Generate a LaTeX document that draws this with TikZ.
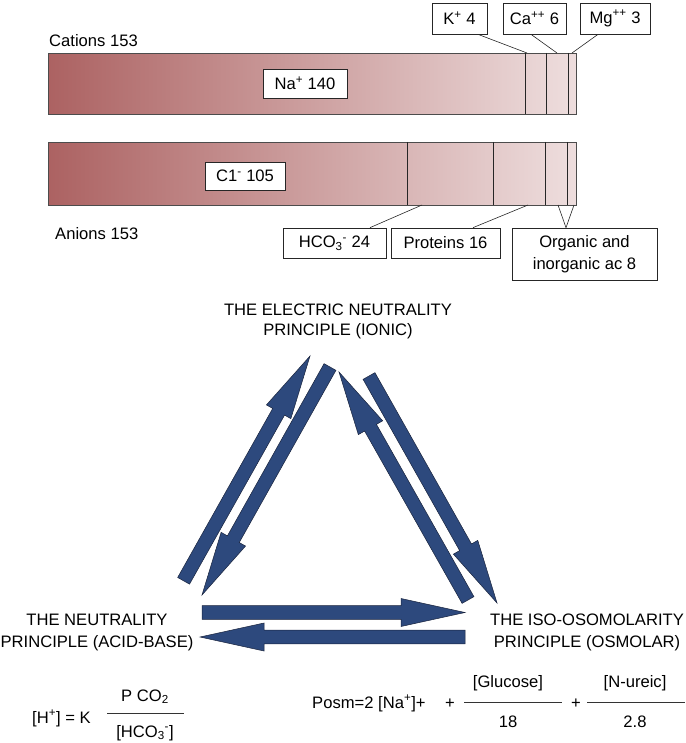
\documentclass[tikz,border=0pt]{standalone}
\usepackage{fontspec}
\setmainfont{Liberation Sans}
\usetikzlibrary{calc}
\definecolor{arrfill}{RGB}{45,73,125}
\definecolor{arrdraw}{RGB}{25,35,60}
\definecolor{barL}{RGB}{172,98,98}
\definecolor{barR}{RGB}{238,222,222}
\tikzset{
  lbl/.style={inner sep=0pt, text=black},
  valbox/.style={draw=black!85, line width=0.7pt, fill=white, inner sep=0pt, text=black},
  leader/.style={draw=black!85, line width=0.6pt},
  divider/.style={draw=black!85, line width=0.6pt},
  barnode/.style={draw=black!70, line width=0.7pt, left color=barL, right color=barR, inner sep=0pt, minimum width=528pt, anchor=north west},
  blockarrow/.style={fill=arrfill, draw=arrdraw, line width=0.5pt, line join=miter},
  fracline/.style={draw=black!80, line width=0.8pt},
}
\newcommand\blockarr[2]{%
  \path ($(#2)!64pt!(#1)$) coordinate (HB);
  \filldraw[blockarrow] ($(#1)!6.8pt!90:(#2)$) -- ($(HB)!6.8pt!90:(#2)$) -- ($(HB)!14pt!90:(#2)$) -- (#2) -- ($(HB)!14pt!-90:(#2)$) -- ($(HB)!6.8pt!-90:(#2)$) -- ($(#1)!6.8pt!-90:(#2)$) -- cycle;}
\begin{document}
\begin{tikzpicture}[x=1pt,y=-1pt,font=\fontsize{16.6}{20}\selectfont]
\useasboundingbox (0,0) rectangle (685,743);

% ---------- cation bar ----------
\node[lbl, anchor=base west] (cations) at (49,47) {Cations 153};
\node[barnode, minimum height=61pt] (catbar) at (48,53) {};
\draw[divider] (525,53) -- (525,114);
\draw[divider] (546,53) -- (546,114);
\draw[divider] (568,53) -- (568,114);
\node[valbox, minimum width=84pt, minimum height=29pt] (na) at (305,83.5) {Na\textsuperscript{+} 140};

\node[valbox, minimum width=55pt, minimum height=31pt] (kbox) at (459.5,18.5) {K\textsuperscript{+} 4};
\node[valbox, minimum width=63pt, minimum height=31pt] (cabox) at (534.5,18.5) {Ca\textsuperscript{++} 6};
\node[valbox, minimum width=70pt, minimum height=31pt] (mgbox) at (615,18.5) {Mg\textsuperscript{++} 3};
\coordinate (kpt) at (527,53);
\coordinate (capt) at (557,53);
\coordinate (mgpt) at (572,53);
\draw[leader] ([xshift=18.5pt]kbox.south) -- (kpt);
\draw[leader] ([xshift=-3.5pt]cabox.south) -- (capt);
\draw[leader] ([xshift=-17pt]mgbox.south) -- (mgpt);

% ---------- anion bar ----------
\node[barnode, minimum height=63pt] (anbar) at (48,142) {};
\draw[divider] (407,142) -- (407,205);
\draw[divider] (493,142) -- (493,205);
\draw[divider] (545,142) -- (545,205);
\draw[divider] (567,142) -- (567,205);
\node[valbox, minimum width=80pt, minimum height=28pt] (cl) at (245,176) {C1\textsuperscript{-} 105};
\node[lbl, anchor=base west] (anions) at (55,240) {Anions 153};

\node[valbox, minimum width=103pt, minimum height=30pt] (hco) at (334.5,243) {HCO\textsubscript{3}\textsuperscript{-} 24};
\node[valbox, minimum width=109pt, minimum height=30pt] (prot) at (445.5,243) {Proteins 16};
\node[valbox, minimum width=145pt, minimum height=52pt, align=center, font=\fontsize{16.6}{22}\selectfont] (org) at (584.5,254) {Organic and\\inorganic ac 8};
\coordinate (hcopt) at (422,205);
\coordinate (protpt) at (528,205);
\coordinate (orgl) at (558,205);
\coordinate (orgr) at (574,205);
\draw[leader] ([xshift=35.5pt]hco.north) -- (hcopt);
\draw[leader] ([xshift=27.5pt]prot.north) -- (protpt);
\draw[leader] (orgl) -- ([xshift=-18.5pt]org.north) -- (orgr);

% ---------- principles ----------
\node[lbl, anchor=base] (ion1) at (338,315) {THE ELECTRIC NEUTRALITY};
\node[lbl, anchor=base] (ion2) at (338,335) {PRINCIPLE (IONIC)};
\node[lbl, anchor=base] (ab1) at (97,625) {THE NEUTRALITY};
\node[lbl, anchor=base] (ab2) at (97,647) {PRINCIPLE (ACID-BASE)};
\node[lbl, anchor=base] (os1) at (587,625) {THE ISO-OSOMOLARITY};
\node[lbl, anchor=base] (os2) at (587,647) {PRINCIPLE (OSMOLAR)};

% ---------- block arrows ----------
\coordinate (a1t) at (183.6,580.8); \coordinate (a1h) at (310,356);
\coordinate (a2t) at (330,367);     \coordinate (a2h) at (202,595);
\coordinate (a3t) at (468,600);     \coordinate (a3h) at (339,372);
\coordinate (a4t) at (369,376);     \coordinate (a4h) at (497,603);
\coordinate (a5t) at (202,612.5);   \coordinate (a5h) at (465,612.5);
\coordinate (a6t) at (465,637);     \coordinate (a6h) at (200,637);
\blockarr{a1t}{a1h}
\blockarr{a2t}{a2h}
\blockarr{a3t}{a3h}
\blockarr{a4t}{a4h}
\blockarr{a5t}{a5h}
\blockarr{a6t}{a6h}

% ---------- formulas ----------
\node[lbl, anchor=base west] (hplus) at (32,723) {[H\textsuperscript{+}] = K};
\node[lbl, anchor=base] (pco) at (145,701) {P CO\textsubscript{2}};
\node[lbl, anchor=base] (hcod) at (145,737) {[HCO\textsubscript{3}\textsuperscript{-}]};
\coordinate (f1l) at (107,713); \coordinate (f1r) at (184,713);
\draw[fracline] (f1l) -- (f1r);

\node[lbl, anchor=base west] (posm) at (312,708) {Posm=2 [Na\textsuperscript{+}]+};
\node[lbl, anchor=base] (plus1) at (450,708) {+};
\node[lbl, anchor=base] (gluc) at (508,687) {[Glucose]};
\node[lbl, anchor=base] (d18) at (508,727) {18};
\coordinate (f2l) at (464,702); \coordinate (f2r) at (562,702);
\draw[fracline] (f2l) -- (f2r);
\node[lbl, anchor=base] (plus2) at (576,708) {+};
\node[lbl, anchor=base] (nur) at (635,687) {[N-ureic]};
\node[lbl, anchor=base] (d28) at (635,727) {2.8};
\coordinate (f3l) at (587,702); \coordinate (f3r) at (685,702);
\draw[fracline] (f3l) -- (f3r);
\end{tikzpicture}
\end{document}
